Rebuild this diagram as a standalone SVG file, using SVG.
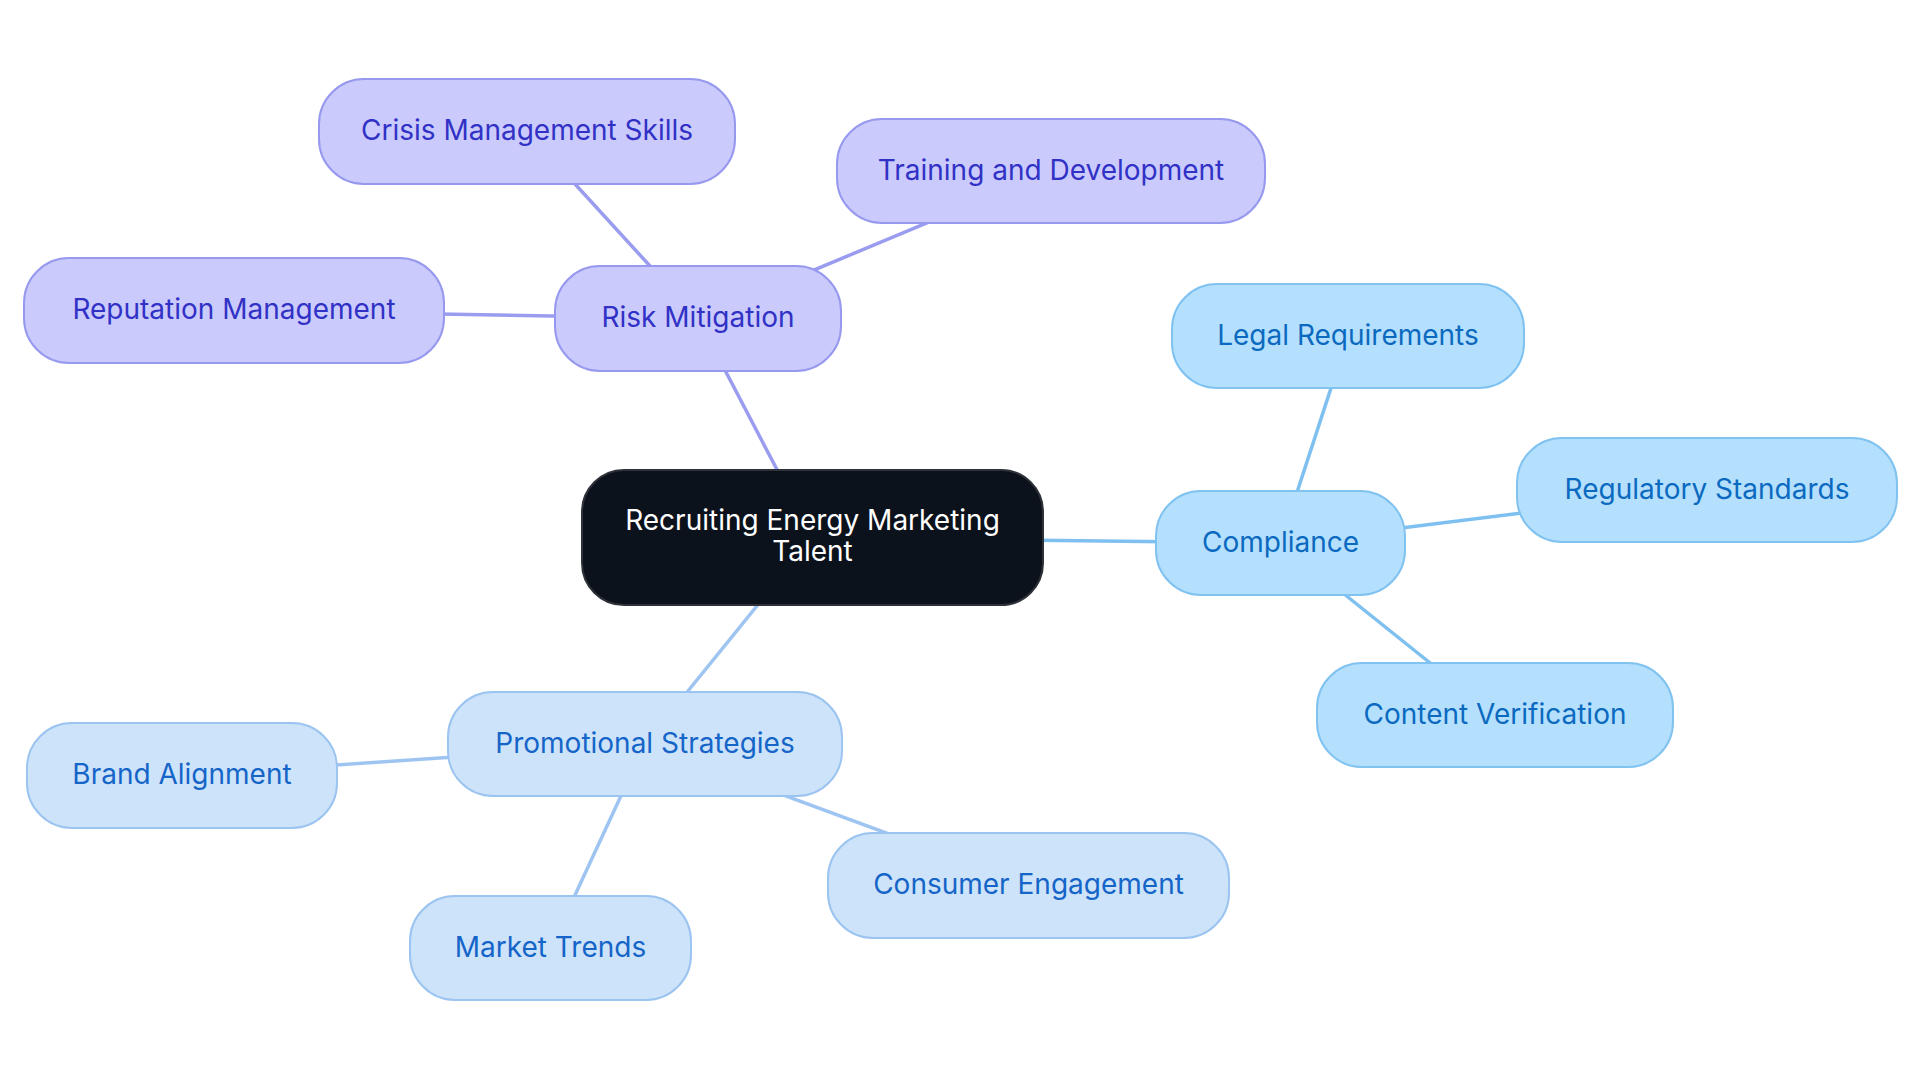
<svg xmlns="http://www.w3.org/2000/svg" width="1920" height="1083" viewBox="0 0 1920 1083">
<style>
text{font-family:Inter,"Open Sans","Liberation Sans",sans-serif;font-size:28px;text-anchor:middle}
.p rect{fill:#CACBFC;stroke:#9699EE;stroke-width:2}
.p text{fill:#3131C6}
.c rect{fill:#B4E0FE;stroke:#80C2F0;stroke-width:2}
.c text{fill:#0B6ABF}
.m rect{fill:#CDE3FA;stroke:#9CC4F0;stroke-width:2}
.m text{fill:#1565C8}
#edges line{stroke-width:3.5;fill:none}
.lp{stroke:#9A9CF0}.lc{stroke:#7EC0F0}.lm{stroke:#9EC5F1}
</style>
<rect width="1920" height="1083" fill="#ffffff"/>
<g id="edges">
<line class="lp" x1="812.5" y1="537.5" x2="698" y2="318.5"/>
<line class="lp" x1="698" y1="318.5" x2="527" y2="131.5"/>
<line class="lp" x1="698" y1="318.5" x2="234" y2="310.5"/>
<line class="lp" x1="698" y1="318.5" x2="1051" y2="171"/>
<line class="lc" x1="812.5" y1="537.5" x2="1280.5" y2="543"/>
<line class="lc" x1="1280.5" y1="543" x2="1348" y2="336"/>
<line class="lc" x1="1280.5" y1="543" x2="1707" y2="490"/>
<line class="lc" x1="1280.5" y1="543" x2="1495" y2="715"/>
<line class="lm" x1="812.5" y1="537.5" x2="645" y2="744"/>
<line class="lm" x1="645" y1="744" x2="182" y2="775.5"/>
<line class="lm" x1="645" y1="744" x2="550.5" y2="948"/>
<line class="lm" x1="645" y1="744" x2="1028.5" y2="885.5"/>
</g>
<g id="center">
<rect x="582" y="470" width="461" height="135" rx="42" fill="#0C121C" stroke="#2E3238" stroke-width="2"/>
<text x="812.5" y="530" fill="#ffffff">Recruiting Energy Marketing</text>
<text x="812.5" y="561" fill="#ffffff">Talent</text>
</g>
<g id="risk" class="p"><rect x="555" y="266" width="286" height="105" rx="45"/><text x="698" y="327">Risk Mitigation</text></g>
<g id="crisis" class="p"><rect x="319" y="79" width="416" height="105" rx="45"/><text x="527" y="140">Crisis Management Skills</text></g>
<g id="reputation" class="p"><rect x="24" y="258" width="420" height="105" rx="45"/><text x="234" y="319">Reputation Management</text></g>
<g id="training" class="p"><rect x="837" y="119" width="428" height="104" rx="45"/><text x="1051" y="180">Training and Development</text></g>
<g id="compliance" class="c"><rect x="1156" y="491" width="249" height="104" rx="45"/><text x="1280.5" y="552">Compliance</text></g>
<g id="legal" class="c"><rect x="1172" y="284" width="352" height="104" rx="45"/><text x="1348" y="345">Legal Requirements</text></g>
<g id="regulatory" class="c"><rect x="1517" y="438" width="380" height="104" rx="45"/><text x="1707" y="499">Regulatory Standards</text></g>
<g id="content" class="c"><rect x="1317" y="663" width="356" height="104" rx="45"/><text x="1495" y="724">Content Verification</text></g>
<g id="promotional" class="m"><rect x="448" y="692" width="394" height="104" rx="45"/><text x="645" y="753">Promotional Strategies</text></g>
<g id="brand" class="m"><rect x="27" y="723" width="310" height="105" rx="45"/><text x="182" y="784">Brand Alignment</text></g>
<g id="market" class="m"><rect x="410" y="896" width="281" height="104" rx="45"/><text x="550.5" y="957">Market Trends</text></g>
<g id="consumer" class="m"><rect x="828" y="833" width="401" height="105" rx="45"/><text x="1028.5" y="894">Consumer Engagement</text></g>
</svg>
